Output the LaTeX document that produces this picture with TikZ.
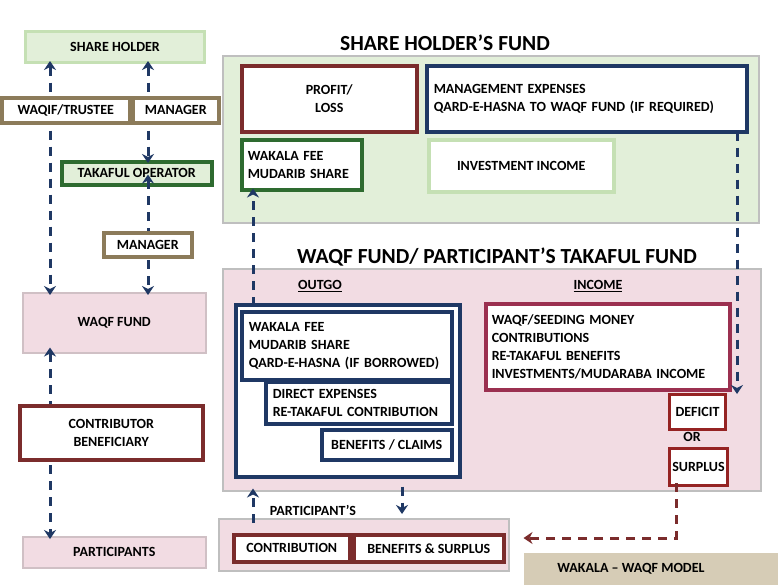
\documentclass[tikz,border=0pt]{standalone}
\usepackage{fontspec}
\setmainfont{Carlito}
\usetikzlibrary{arrows.meta}
\definecolor{navy}{HTML}{1F3864}
\definecolor{dred}{HTML}{7B2C2C}
\definecolor{tan}{HTML}{8C7B5A}
\definecolor{gfill}{HTML}{E2EFD9}
\definecolor{pfill}{HTML}{F2DCE3}
\definecolor{dgreen}{HTML}{2E6B30}
\definecolor{lgreen}{HTML}{C5E0B4}
\definecolor{rose}{HTML}{9B3050}
\definecolor{tanfill}{HTML}{D6CCB6}
\tikzset{
 tf/.style={font=\bfseries\fontsize{14}{18}\selectfont},
 bx/.style={draw, line width=3.5pt, fill=white, tf, inner sep=0pt, align=center},
 lb/.style={align=left, text width=#1pt},
 panel/.style={draw=black!25, line width=1.5pt, inner sep=0pt},
 dar/.style={navy, line width=3pt, dash pattern=on 9pt off 7pt, {Stealth[length=9pt,width=12pt]}-{Stealth[length=9pt,width=12pt]}},
 sar/.style={navy, line width=3pt, dash pattern=on 9pt off 7pt, -{Stealth[length=9pt,width=12pt]}},
 ttl/.style={font=\bfseries\fontsize{21.5}{24}\selectfont}
}
\newcommand{\bxat}[7]{\node[#1, minimum width=#4pt-#2pt, minimum height=#5pt-#3pt, anchor=north west] (#6) at (#2,#3) {#7};}
\begin{document}
\begin{tikzpicture}[x=1pt,y=-1pt]
\useasboundingbox (0,0) rectangle (778,584);
% panels
\bxat{panel,fill=gfill}{222}{55}{758}{222}{shp}{}
\bxat{panel,fill=pfill}{222}{268}{760}{490}{wp}{}
\bxat{panel,fill=pfill}{218}{518}{508}{570}{pp}{}
\node[ttl] (t1) at (445,43) {SHARE HOLDER’S FUND};
\node[ttl] (t2) at (497,257) {WAQF FUND/ PARTICIPANT’S TAKAFUL FUND};
% left column
\bxat{bx,draw=lgreen,fill=gfill,line width=3pt}{24}{30}{203}{61}{sh}{SHARE HOLDER}
\bxat{bx,draw=pfill!70!gray,fill=pfill,line width=1.5pt}{22}{292}{205}{352}{wf}{WAQF FUND}
\bxat{bx,draw=pfill!70!gray,fill=pfill,line width=1.5pt}{22}{536}{205}{567}{pa}{PARTICIPANTS}
\bxat{bx,draw=dgreen,fill=gfill}{60}{160}{210}{183}{to}{TAKAFUL OPERATOR}
% arrows left
\draw[dar] ([yshift=3pt]sh.south -| 50,0) -- ([yshift=-3pt]wf.north -| 50,0);
\draw[dar] ([yshift=3pt]sh.south -| 148,0) -- ([yshift=-3pt]to.north -| 148,0);
\draw[dar] ([yshift=12pt]to.south -| 148,0) -- ([yshift=-3pt]wf.north -| 148,0);
\draw[dar] ([yshift=6pt]wf.south -| 50,0) -- ([yshift=-3pt]pa.north -| 50,0);
\bxat{bx,draw=tan}{0}{96}{128}{121}{wq}{WAQIF/TRUSTEE}
\bxat{bx,draw=tan}{131}{96}{217}{121}{m1}{MANAGER}
\bxat{bx,draw=tan}{102}{231}{190}{255}{m2}{MANAGER}
\bxat{bx,draw=dred}{18}{404}{201}{458}{cb}{CONTRIBUTOR\\BENEFICIARY}
% share holder fund
\bxat{bx,draw=dred}{240}{64}{415}{130}{pl}{PROFIT/\\LOSS}
\bxat{bx,draw=navy,lb=306}{425}{64}{745}{130}{me}{MANAGEMENT EXPENSES\\QARD-E-HASNA TO WAQF FUND (IF REQUIRED)}
\bxat{bx,draw=dgreen,lb=108}{240}{138}{360}{188}{wk}{WAKALA FEE\\MUDARIB SHARE}
\bxat{bx,draw=lgreen}{427}{138}{612}{190}{ii}{INVESTMENT INCOME}
% waqf fund
\node[tf] (og) at (320,286) {\underline{OUTGO}};
\node[tf] (in) at (598,286) {\underline{INCOME}};
\bxat{bx,draw=navy}{234}{303}{458}{475}{ob}{}
\bxat{bx,draw=navy,lb=196}{240}{310}{450}{378}{o1}{WAKALA FEE\\MUDARIB SHARE\\QARD-E-HASNA (IF BORROWED)}
\bxat{bx,draw=navy,lb=172}{264}{380}{450}{422}{o2}{DIRECT EXPENSES\\RE-TAKAFUL CONTRIBUTION}
\bxat{bx,draw=navy}{320}{428}{450}{458}{o3}{BENEFITS / CLAIMS}
\bxat{bx,draw=rose,lb=232}{484}{302}{728}{388}{ib}{WAQF/SEEDING MONEY\\CONTRIBUTIONS\\RE-TAKAFUL BENEFITS\\INVESTMENTS/MUDARABA INCOME}
\bxat{bx,draw=dred!80!red,line width=3pt}{668}{393}{724}{428}{df}{DEFICIT}
\node[tf] (or) at (692,437) {OR};
\bxat{bx,draw=dred!80!red,line width=3pt}{668}{447}{726}{484}{sp}{SURPLUS}
% bottom
\node[tf] (pt) at (313,510) {PARTICIPANT’S};
\bxat{bx,draw=dred}{232}{533}{348}{560}{co}{CONTRIBUTION}
\bxat{bx,draw=dred}{352}{533}{502}{560}{bs}{BENEFITS \& SURPLUS}
\bxat{bx,draw=tanfill,fill=tanfill,line width=0pt}{524}{553}{778}{584}{wm}{\hspace*{-40pt}WAKALA – WAQF MODEL}
% connectors
\draw[sar] ([yshift=-3pt]ob.north -| 253,0) -- ([yshift=3pt]wk.south -| 253,0);
\draw[sar] ([yshift=2pt]me.south -| 737,0) -- ([yshift=-1pt]df.north -| 737,0);
\draw[sar] ([yshift=-5pt]pp.north -| 253,0) -- ([yshift=3pt]wp.south -| 253,0);
\draw[sar] ([yshift=-8pt]ob.south -| 402,0) -- ([yshift=4pt]pp.north -| 402,0);
\coordinate (bend) at (676,538);
\draw[dred, line width=3pt, dash pattern=on 9pt off 7pt, -{Stealth[length=9pt,width=12pt]}] ([yshift=4pt]sp.south -| 676,0) -- (bend) -- ([xshift=14pt]pp.east |- bend);
\end{tikzpicture}
\end{document}
